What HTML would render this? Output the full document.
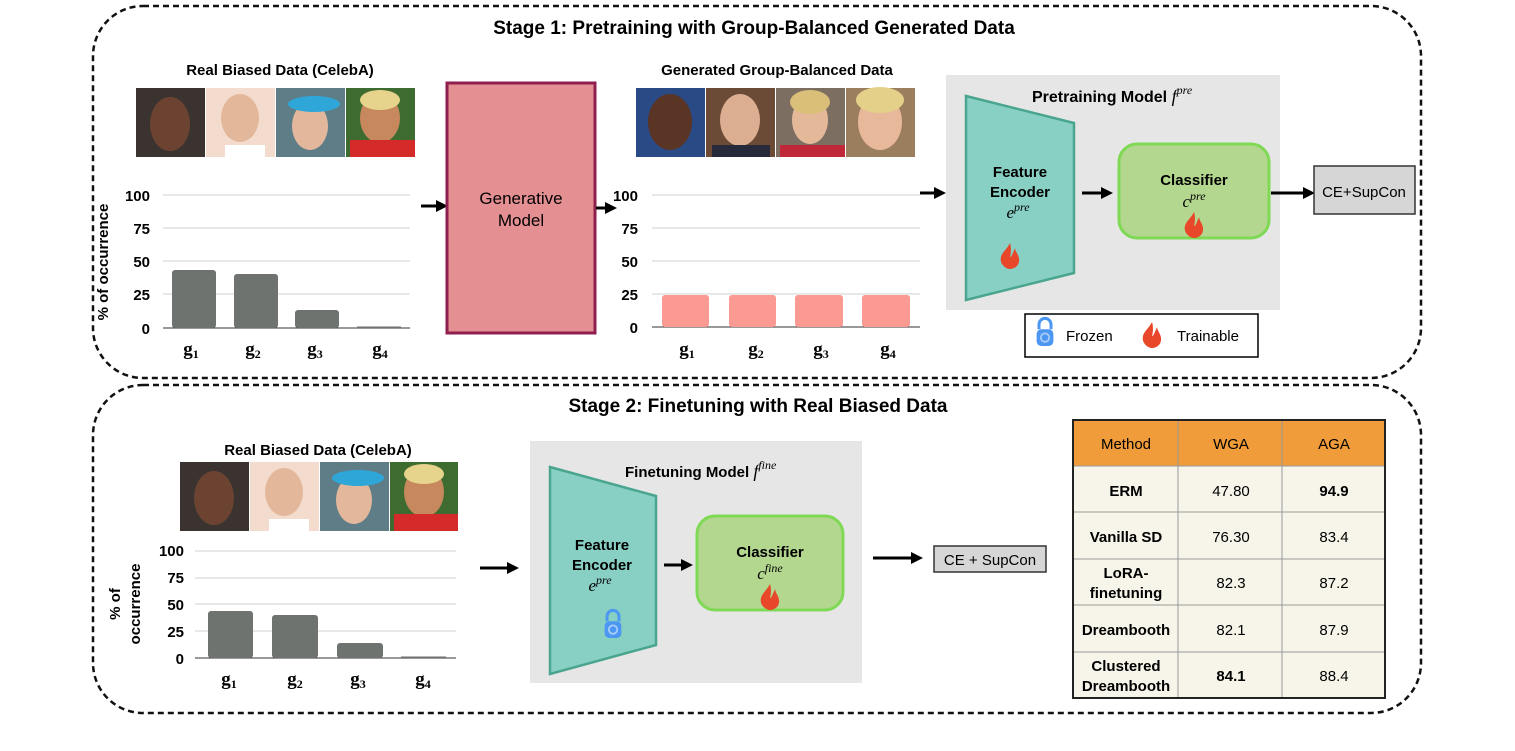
<!DOCTYPE html>
<html><head><meta charset="utf-8"><style>
html,body{margin:0;padding:0;background:#fff;}
svg{display:block;font-family:"Liberation Sans",sans-serif;}
.b{font-weight:bold;}
.it{font-family:"Liberation Serif",serif;font-style:italic;}
.g{font-family:"Liberation Serif",serif;font-weight:bold;}
</style></head><body>
<svg width="1515" height="751" viewBox="0 0 1515 751" xmlns="http://www.w3.org/2000/svg">
<defs>
<marker id="ah" markerWidth="12" markerHeight="12" refX="9" refY="6" orient="auto" markerUnits="userSpaceOnUse"><path d="M0,0 L12,6 L0,12 z" fill="#000"/></marker>
<g id="flame"><path transform="scale(1.3)" d="M0,-10 C-3,-4 -8,-2 -7,4 C-6,8 -2,10 0,10 C3,10 7,8 7,3 C7,-1 4,-3 4,-6 C2,-3 2,0 0,1 C1,-3 1,-7 0,-10z" fill="#e8472a"/></g>
<g id="lock"><g transform="scale(1.2)"><path d="M-5,-4 V-8 A5,5 0 0 1 5,-8 V-4" fill="none" stroke="#4c97f2" stroke-width="2.5"/><rect x="-7" y="-4" width="14" height="14" rx="4" fill="#4c97f2"/><circle cx="0" cy="3" r="3.5" fill="none" stroke="#a8cdfa" stroke-width="1.5"/></g></g>
</defs>
<!-- stage boxes -->
<rect x="93" y="6" width="1328" height="372" rx="50" fill="none" stroke="#111" stroke-width="2.5" stroke-dasharray="6,4"/>
<rect x="93" y="385" width="1328" height="328" rx="50" fill="none" stroke="#111" stroke-width="2.5" stroke-dasharray="6,4"/>
<text x="754" y="34" text-anchor="middle" class="b" font-size="19">Stage 1: Pretraining with Group-Balanced Generated Data</text>
<text x="758" y="412" text-anchor="middle" class="b" font-size="19">Stage 2: Finetuning with Real Biased Data</text>

<!-- Stage 1 left -->
<text x="280" y="75" text-anchor="middle" class="b" font-size="15">Real Biased Data (CelebA)</text>
<rect x="136" y="88" width="69" height="69" fill="#3a3330"/><ellipse cx="170" cy="124" rx="20" ry="27" fill="#6b4330"/>
<rect x="206" y="88" width="69" height="69" fill="#f3dccd"/><ellipse cx="240" cy="118" rx="19" ry="24" fill="#e3b79a"/><rect x="225" y="145" width="40" height="12" fill="#fff"/>
<rect x="276" y="88" width="69" height="69" fill="#5f7d86"/><ellipse cx="310" cy="126" rx="18" ry="24" fill="#e2b79c"/><ellipse cx="314" cy="104" rx="26" ry="8" fill="#2ea6d8"/>
<rect x="346" y="88" width="69" height="69" fill="#3e6b2f"/><ellipse cx="380" cy="118" rx="20" ry="25" fill="#c7885e"/><ellipse cx="380" cy="100" rx="20" ry="10" fill="#e6d48d"/><rect x="350" y="140" width="65" height="17" fill="#d42a2a"/>
<g stroke="#d0d0d0" stroke-width="1"><line x1="163" y1="195" x2="410" y2="195"/><line x1="163" y1="228" x2="410" y2="228"/><line x1="163" y1="261" x2="410" y2="261"/><line x1="163" y1="294" x2="410" y2="294"/></g>
<line x1="163" y1="328" x2="410" y2="328" stroke="#333" stroke-width="1"/>
<g fill="#6e7370"><rect x="172" y="270" width="44" height="58" rx="3"/><rect x="234" y="274" width="44" height="54" rx="3"/><rect x="295" y="310" width="44" height="18" rx="3"/><rect x="357" y="326.5" width="44" height="1.5"/></g>
<g class="b" font-size="15" text-anchor="end"><text x="150" y="201">100</text><text x="150" y="234">75</text><text x="150" y="267">50</text><text x="150" y="300">25</text><text x="150" y="334">0</text></g>
<text transform="translate(108,262) rotate(-90)" text-anchor="middle" class="b" font-size="15">% of occurrence</text>
<g class="g" font-size="19" text-anchor="middle"><text x="191" y="355">g<tspan font-size="12" dy="3">1</tspan></text><text x="253" y="355">g<tspan font-size="12" dy="3">2</tspan></text><text x="315" y="355">g<tspan font-size="12" dy="3">3</tspan></text><text x="380" y="355">g<tspan font-size="12" dy="3">4</tspan></text></g>
<line x1="421" y1="206" x2="445" y2="206" stroke="#000" stroke-width="3" marker-end="url(#ah)"/>
<rect x="447" y="83" width="148" height="250" fill="#e48f92" stroke="#8e1f4f" stroke-width="3"/>
<text x="521" y="204" text-anchor="middle" font-size="17">Generative</text><text x="521" y="226" text-anchor="middle" font-size="17">Model</text>
<line x1="596" y1="208" x2="614" y2="208" stroke="#000" stroke-width="3" marker-end="url(#ah)"/>

<!-- generated -->
<text x="777" y="75" text-anchor="middle" class="b" font-size="15">Generated Group-Balanced Data</text>
<rect x="636" y="88" width="69" height="69" fill="#2a4a86"/><ellipse cx="670" cy="122" rx="22" ry="28" fill="#5a3424"/>
<rect x="706" y="88" width="69" height="69" fill="#6b4a36"/><ellipse cx="740" cy="120" rx="20" ry="26" fill="#dcae92"/><rect x="712" y="145" width="58" height="12" fill="#262a3a"/>
<rect x="776" y="88" width="69" height="69" fill="#7d6e62"/><ellipse cx="810" cy="120" rx="18" ry="24" fill="#e3b99a"/><ellipse cx="810" cy="102" rx="20" ry="12" fill="#d9bf78"/><rect x="780" y="145" width="65" height="12" fill="#c0283a"/>
<rect x="846" y="88" width="69" height="69" fill="#9a7e5e"/><ellipse cx="880" cy="122" rx="22" ry="28" fill="#e8b89a"/><ellipse cx="880" cy="100" rx="24" ry="13" fill="#e5d08a"/>
<g stroke="#d0d0d0" stroke-width="1"><line x1="652" y1="195" x2="920" y2="195"/><line x1="652" y1="228" x2="920" y2="228"/><line x1="652" y1="261" x2="920" y2="261"/><line x1="652" y1="294" x2="920" y2="294"/></g>
<line x1="652" y1="327" x2="920" y2="327" stroke="#333" stroke-width="1"/>
<g fill="#fa9a93"><rect x="662" y="295" width="47" height="32" rx="3"/><rect x="729" y="295" width="47" height="32" rx="3"/><rect x="795" y="295" width="48" height="32" rx="3"/><rect x="862" y="295" width="48" height="32" rx="3"/></g>
<g class="b" font-size="15" text-anchor="end"><text x="638" y="201">100</text><text x="638" y="234">75</text><text x="638" y="267">50</text><text x="638" y="300">25</text><text x="638" y="333">0</text></g>
<g class="g" font-size="19" text-anchor="middle"><text x="687" y="355">g<tspan font-size="12" dy="3">1</tspan></text><text x="756" y="355">g<tspan font-size="12" dy="3">2</tspan></text><text x="821" y="355">g<tspan font-size="12" dy="3">3</tspan></text><text x="888" y="355">g<tspan font-size="12" dy="3">4</tspan></text></g>
<line x1="920" y1="193" x2="943" y2="193" stroke="#000" stroke-width="3" marker-end="url(#ah)"/>

<!-- pretraining model -->
<rect x="946" y="75" width="334" height="235" fill="#e6e6e6"/>
<text x="1032" y="102" class="b" font-size="16">Pretraining Model <tspan class="it" font-weight="normal" font-size="18">f</tspan><tspan class="it" font-weight="normal" font-size="12" dy="-8">pre</tspan></text>
<path d="M966,96 L1074,123 L1074,273 L966,300 Z" fill="#88d0c4" stroke="#4aa58f" stroke-width="2.5"/>
<text x="1020" y="177" text-anchor="middle" class="b" font-size="15">Feature</text><text x="1020" y="197" text-anchor="middle" class="b" font-size="15">Encoder</text>
<text x="1018" y="218" text-anchor="middle" class="it" font-size="17">e<tspan font-size="12" dy="-7">pre</tspan></text>
<use href="#flame" x="1010" y="256"/>
<line x1="1082" y1="193" x2="1110" y2="193" stroke="#000" stroke-width="3" marker-end="url(#ah)"/>
<rect x="1119" y="144" width="150" height="94" rx="18" fill="#b3d78f" stroke="#7fd955" stroke-width="3"/>
<text x="1194" y="185" text-anchor="middle" class="b" font-size="15">Classifier</text>
<text x="1194" y="207" text-anchor="middle" class="it" font-size="17">c<tspan font-size="12" dy="-7">pre</tspan></text>
<use href="#flame" x="1194" y="225"/>
<line x1="1271" y1="193" x2="1312" y2="193" stroke="#000" stroke-width="3" marker-end="url(#ah)"/>
<rect x="1314" y="166" width="101" height="48" fill="#d6d6d6" stroke="#333" stroke-width="1.5"/>
<text x="1364" y="197" text-anchor="middle" font-size="15">CE+SupCon</text>
<rect x="1025" y="314" width="233" height="43" fill="#fff" stroke="#000" stroke-width="1.5"/>
<use href="#lock" x="1045" y="334"/><text x="1066" y="341" font-size="15">Frozen</text>
<use href="#flame" x="1152" y="335"/><text x="1177" y="341" font-size="15">Trainable</text>

<!-- stage 2 left -->
<text x="318" y="455" text-anchor="middle" class="b" font-size="15">Real Biased Data (CelebA)</text>
<rect x="180" y="462" width="69" height="69" fill="#3a3330"/><ellipse cx="214" cy="498" rx="20" ry="27" fill="#6b4330"/>
<rect x="250" y="462" width="69" height="69" fill="#f3dccd"/><ellipse cx="284" cy="492" rx="19" ry="24" fill="#e3b79a"/><rect x="269" y="519" width="40" height="12" fill="#fff"/>
<rect x="320" y="462" width="69" height="69" fill="#5f7d86"/><ellipse cx="354" cy="500" rx="18" ry="24" fill="#e2b79c"/><ellipse cx="358" cy="478" rx="26" ry="8" fill="#2ea6d8"/>
<rect x="390" y="462" width="68" height="69" fill="#3e6b2f"/><ellipse cx="424" cy="492" rx="20" ry="25" fill="#c7885e"/><ellipse cx="424" cy="474" rx="20" ry="10" fill="#e6d48d"/><rect x="394" y="514" width="64" height="17" fill="#d42a2a"/>
<g stroke="#d0d0d0" stroke-width="1"><line x1="195" y1="551" x2="456" y2="551"/><line x1="195" y1="578" x2="456" y2="578"/><line x1="195" y1="604" x2="456" y2="604"/><line x1="195" y1="631" x2="456" y2="631"/></g>
<line x1="195" y1="658" x2="456" y2="658" stroke="#333" stroke-width="1"/>
<g fill="#6e7370"><rect x="208" y="611" width="45" height="47" rx="3"/><rect x="272" y="615" width="46" height="43" rx="3"/><rect x="337" y="643" width="46" height="15" rx="3"/><rect x="401" y="656.5" width="45" height="1.5"/></g>
<g class="b" font-size="15" text-anchor="end"><text x="184" y="556">100</text><text x="184" y="583">75</text><text x="184" y="610">50</text><text x="184" y="637">25</text><text x="184" y="664">0</text></g>
<text transform="translate(120,604) rotate(-90)" text-anchor="middle" class="b" font-size="15">% of</text>
<text transform="translate(140,604) rotate(-90)" text-anchor="middle" class="b" font-size="15">occurrence</text>
<g class="g" font-size="19" text-anchor="middle"><text x="229" y="685">g<tspan font-size="12" dy="3">1</tspan></text><text x="295" y="685">g<tspan font-size="12" dy="3">2</tspan></text><text x="358" y="685">g<tspan font-size="12" dy="3">3</tspan></text><text x="423" y="685">g<tspan font-size="12" dy="3">4</tspan></text></g>
<line x1="480" y1="568" x2="516" y2="568" stroke="#000" stroke-width="3" marker-end="url(#ah)"/>

<!-- finetuning model -->
<rect x="530" y="441" width="332" height="242" fill="#e6e6e6"/>
<text x="625" y="477" class="b" font-size="15">Finetuning Model <tspan class="it" font-weight="normal" font-size="18">f</tspan><tspan class="it" font-weight="normal" font-size="12" dy="-8">fine</tspan></text>
<path d="M550,467 L656,496 L656,645 L550,674 Z" fill="#88d0c4" stroke="#4aa58f" stroke-width="2.5"/>
<text x="602" y="550" text-anchor="middle" class="b" font-size="15">Feature</text><text x="602" y="570" text-anchor="middle" class="b" font-size="15">Encoder</text>
<text x="600" y="591" text-anchor="middle" class="it" font-size="17">e<tspan font-size="12" dy="-7">pre</tspan></text>
<use href="#lock" x="613" y="626"/>
<line x1="664" y1="565" x2="690" y2="565" stroke="#000" stroke-width="3" marker-end="url(#ah)"/>
<rect x="697" y="516" width="146" height="94" rx="18" fill="#b3d78f" stroke="#7fd955" stroke-width="3"/>
<text x="770" y="557" text-anchor="middle" class="b" font-size="15">Classifier</text>
<text x="770" y="579" text-anchor="middle" class="it" font-size="17">c<tspan font-size="12" dy="-7">fine</tspan></text>
<use href="#flame" x="770" y="597"/>
<line x1="873" y1="558" x2="920" y2="558" stroke="#000" stroke-width="3" marker-end="url(#ah)"/>
<rect x="934" y="546" width="112" height="26" fill="#d6d6d6" stroke="#333" stroke-width="1.5"/>
<text x="990" y="565" text-anchor="middle" font-size="15">CE + SupCon</text>

<!-- table -->
<rect x="1073" y="420" width="312" height="46" fill="#f09c3a"/>
<rect x="1073" y="466" width="312" height="232" fill="#f7f5ea"/>
<g stroke="#999" stroke-width="1">
<line x1="1178" y1="420" x2="1178" y2="698"/><line x1="1282" y1="420" x2="1282" y2="698"/>
<line x1="1073" y1="466" x2="1385" y2="466"/><line x1="1073" y1="512" x2="1385" y2="512"/><line x1="1073" y1="559" x2="1385" y2="559"/><line x1="1073" y1="605" x2="1385" y2="605"/><line x1="1073" y1="652" x2="1385" y2="652"/>
</g>
<rect x="1073" y="420" width="312" height="278" fill="none" stroke="#222" stroke-width="2"/>
<g font-size="15" text-anchor="middle">
<text x="1126" y="449">Method</text><text x="1231" y="449">WGA</text><text x="1334" y="449">AGA</text>
<text x="1126" y="496" class="b">ERM</text><text x="1231" y="496">47.80</text><text x="1334" y="496" class="b">94.9</text>
<text x="1126" y="542" class="b">Vanilla SD</text><text x="1231" y="542">76.30</text><text x="1334" y="542">83.4</text>
<text x="1126" y="578" class="b">LoRA-</text><text x="1126" y="598" class="b">finetuning</text><text x="1231" y="588">82.3</text><text x="1334" y="588">87.2</text>
<text x="1126" y="635" class="b">Dreambooth</text><text x="1231" y="635">82.1</text><text x="1334" y="635">87.9</text>
<text x="1126" y="671" class="b">Clustered</text><text x="1126" y="691" class="b">Dreambooth</text><text x="1231" y="681" class="b">84.1</text><text x="1334" y="681">88.4</text>
</g>
</svg>
</body></html>
